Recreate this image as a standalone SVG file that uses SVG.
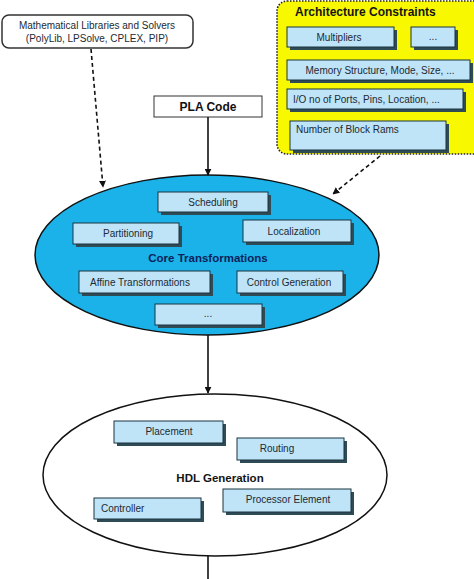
<svg xmlns="http://www.w3.org/2000/svg" width="474" height="579" viewBox="0 0 474 579">
<style>
.t{font-family:"Liberation Sans",Arial,sans-serif;font-size:10px;fill:#1c2a33}
.b{font-family:"Liberation Sans",Arial,sans-serif;font-weight:bold}
.bx{fill:#bfe4f8;stroke:#1b3440;stroke-width:1}
.sh{fill:#2f4b55}
.solid{stroke:#111;stroke-width:1.6;fill:none}
.dash{stroke:#111;stroke-width:1.6;fill:none;stroke-dasharray:4 3}
</style>
<defs>
<marker id="ah" viewBox="0 0 10 10" refX="9" refY="5" markerWidth="7" markerHeight="7" markerUnits="userSpaceOnUse" orient="auto">
<path d="M0,0 L10,5 L0,10 z" fill="#111"/>
</marker>
</defs>
<rect width="474" height="579" fill="#fff"/>

<g id="math-libs">
<rect x="2" y="15" width="191" height="33" rx="7" fill="#fff" stroke="#333" stroke-width="1.5"/>
<text class="t" x="97" y="29" text-anchor="middle" font-size="10.5">Mathematical Libraries and Solvers</text>
<text class="t" x="97" y="42" text-anchor="middle" font-size="10.5">(PolyLib, LPSolve, CPLEX, PIP)</text>
</g>

<g id="pla-code">
<rect x="154" y="96" width="108" height="21" fill="#fff" stroke="#333" stroke-width="1"/>
<text class="b" x="208" y="111" font-size="12" text-anchor="middle" fill="#111">PLA Code</text>
</g>

<g id="arch-constraints">
<rect x="277" y="1" width="210" height="153" rx="10" fill="#f8f800" stroke="#222" stroke-width="1.6" stroke-dasharray="1.5 1.5"/>
<text class="b" x="295" y="16" font-size="12" fill="#151515">Architecture Constraints</text>
<rect class="sh" x="290" y="30" width="107" height="20"/>
<rect class="bx" x="287" y="27" width="107" height="20"/>
<text class="t" x="339" y="41" text-anchor="middle">Multipliers</text>
<rect class="sh" x="414" y="30" width="44" height="20"/>
<rect class="bx" x="411" y="27" width="44" height="20"/>
<text class="t" x="433" y="40" text-anchor="middle" font-size="7">...</text>
<rect class="sh" x="290" y="63" width="183" height="20"/>
<rect class="bx" x="287" y="60" width="183" height="20"/>
<text class="t" x="380" y="74" text-anchor="middle">Memory Structure, Mode, Size, ...</text>
<rect class="sh" x="290" y="92" width="176" height="20"/>
<rect class="bx" x="287" y="89" width="176" height="20"/>
<text class="t" x="293" y="103">I/O no of Ports, Pins, Location, ...</text>
<rect class="sh" x="293" y="124" width="156" height="29"/>
<rect class="bx" x="290" y="121" width="156" height="29"/>
<text class="t" x="296" y="133">Number of Block Rams</text>
</g>

<g id="core-transformations">
<ellipse cx="207" cy="255" rx="172" ry="80" fill="#1ab2e8" stroke="#111" stroke-width="1.5"/>
<rect class="sh" x="161" y="195" width="110" height="20"/>
<rect class="bx" x="158" y="192" width="110" height="20"/>
<text class="t" x="213" y="206" text-anchor="middle">Scheduling</text>
<rect class="sh" x="76" y="226" width="106" height="21"/>
<rect class="bx" x="73" y="223" width="106" height="21"/>
<text class="t" x="128" y="237" text-anchor="middle">Partitioning</text>
<rect class="sh" x="246" y="223" width="108" height="22"/>
<rect class="bx" x="243" y="220" width="108" height="22"/>
<text class="t" x="294" y="235" text-anchor="middle">Localization</text>
<text class="b" x="208" y="262" font-size="11.5" text-anchor="middle" fill="#0d1f5c">Core Transformations</text>
<rect class="sh" x="82" y="274" width="131" height="22"/>
<rect class="bx" x="79" y="271" width="131" height="22"/>
<text class="t" x="140" y="286" text-anchor="middle">Affine Transformations</text>
<rect class="sh" x="240" y="274" width="106" height="22"/>
<rect class="bx" x="237" y="271" width="106" height="22"/>
<text class="t" x="289" y="286" text-anchor="middle">Control Generation</text>
<rect class="sh" x="158" y="307" width="107" height="21"/>
<rect class="bx" x="155" y="304" width="107" height="21"/>
<text class="t" x="208" y="317" text-anchor="middle" font-size="7">...</text>
</g>

<g id="hdl-generation">
<ellipse cx="215" cy="475" rx="172" ry="81" fill="#fff" stroke="#111" stroke-width="1.5"/>
<rect class="sh" x="117" y="424" width="109" height="22"/>
<rect class="bx" x="114" y="421" width="109" height="22"/>
<text class="t" x="169" y="435" text-anchor="middle">Placement</text>
<rect class="sh" x="240" y="441" width="107" height="22"/>
<rect class="bx" x="237" y="438" width="107" height="22"/>
<text class="t" x="277" y="452" text-anchor="middle">Routing</text>
<text class="b" x="220" y="482" font-size="11.5" text-anchor="middle" fill="#151515">HDL Generation</text>
<rect class="sh" x="97" y="501" width="107" height="21"/>
<rect class="bx" x="94" y="498" width="107" height="21"/>
<text class="t" x="101" y="512">Controller</text>
<rect class="sh" x="226" y="492" width="128" height="23"/>
<rect class="bx" x="223" y="489" width="128" height="23"/>
<text class="t" x="288" y="503" text-anchor="middle">Processor Element</text>
</g>

<g id="connectors">
<path class="dash" d="M91,49 L103,187" marker-end="url(#ah)"/>
<path class="solid" d="M208,117 L208,175" marker-end="url(#ah)"/>
<path class="dash" d="M380,156 L333,194" marker-end="url(#ah)"/>
<path class="solid" d="M208,335 L208,393" marker-end="url(#ah)"/>
<path class="solid" d="M208,556 L208,579"/>
</g>
</svg>
